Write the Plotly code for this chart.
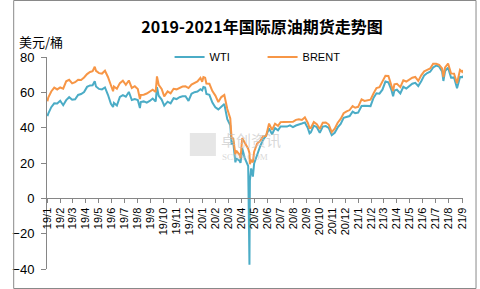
import plotly.graph_objects as go

dates = [
    "2019-01-02","2019-01-04","2019-01-11","2019-01-18","2019-01-25","2019-02-01","2019-02-08","2019-02-15","2019-02-22",
    "2019-03-01","2019-03-08","2019-03-15","2019-03-22","2019-03-29","2019-04-05","2019-04-12","2019-04-18","2019-04-23",
    "2019-04-26","2019-05-03","2019-05-10","2019-05-17","2019-05-24","2019-05-31","2019-06-05","2019-06-07","2019-06-14",
    "2019-06-21","2019-06-28","2019-07-05","2019-07-12","2019-07-19","2019-07-26","2019-08-02","2019-08-07","2019-08-09",
    "2019-08-16","2019-08-23","2019-08-30","2019-09-06","2019-09-13","2019-09-16","2019-09-20","2019-09-27","2019-10-03",
    "2019-10-11","2019-10-18","2019-10-25","2019-11-01","2019-11-08","2019-11-15","2019-11-22","2019-11-29","2019-12-06",
    "2019-12-13","2019-12-20","2019-12-27","2019-12-31",
    "2020-01-03","2020-01-07","2020-01-10","2020-01-17","2020-01-24","2020-01-31","2020-02-07","2020-02-14","2020-02-21",
    "2020-02-28","2020-03-06","2020-03-09","2020-03-13","2020-03-18","2020-03-20","2020-03-27","2020-03-30","2020-04-02",
    "2020-04-03","2020-04-09","2020-04-17","2020-04-20","2020-04-21","2020-04-24","2020-04-28","2020-05-01","2020-05-08",
    "2020-05-15","2020-05-22","2020-05-29","2020-06-05","2020-06-12","2020-06-19","2020-06-26","2020-07-02","2020-07-10",
    "2020-07-17","2020-07-24","2020-07-31","2020-08-07","2020-08-14","2020-08-21","2020-08-28","2020-09-04","2020-09-08",
    "2020-09-11","2020-09-18","2020-09-25","2020-10-02","2020-10-09","2020-10-16","2020-10-23","2020-10-30","2020-11-06",
    "2020-11-13","2020-11-20","2020-11-27","2020-12-04","2020-12-11","2020-12-18","2020-12-24","2020-12-31",
    "2021-01-08","2021-01-15","2021-01-22","2021-01-29","2021-02-05","2021-02-12","2021-02-19","2021-02-26","2021-03-05",
    "2021-03-12","2021-03-19","2021-03-23","2021-03-26","2021-04-01","2021-04-09","2021-04-16","2021-04-23","2021-04-30",
    "2021-05-07","2021-05-14","2021-05-21","2021-05-28","2021-06-04","2021-06-11","2021-06-18","2021-06-25","2021-07-02",
    "2021-07-09","2021-07-16","2021-07-19","2021-07-23","2021-07-30","2021-08-06","2021-08-13","2021-08-20","2021-08-27",
    "2021-09-01","2021-09-03",
]

wti = [
    46.54,47.96,51.59,53.80,53.69,55.26,52.72,55.59,57.26,
    55.80,56.07,58.52,59.04,60.14,63.08,63.89,64.00,66.30,
    63.30,61.94,61.66,62.76,58.63,53.50,51.68,54.00,52.51,
    57.43,58.47,57.51,60.21,55.63,56.20,55.66,51.09,54.50,
    54.87,54.17,55.10,56.52,54.85,62.90,58.09,55.91,52.45,
    54.70,53.78,56.66,56.20,57.24,57.72,57.77,55.17,59.20,
    60.07,60.44,61.72,61.06,
    63.05,62.70,59.04,58.54,54.19,51.56,50.32,52.05,53.38,
    44.76,41.28,31.13,31.73,20.37,22.43,21.51,20.09,25.32,
    28.34,22.76,18.27,-37.63,10.01,16.94,12.34,19.78,24.74,
    29.43,33.25,35.49,39.55,36.26,39.75,38.49,40.65,40.55,
    40.59,41.29,40.27,41.22,42.01,42.34,42.97,39.77,36.76,
    37.33,41.11,40.25,37.05,40.60,40.88,39.85,35.79,37.14,
    40.13,42.15,45.53,46.26,46.57,49.10,48.23,48.52,
    52.24,52.36,52.27,52.20,56.85,59.47,59.24,61.50,66.09,
    65.61,61.42,57.76,60.97,61.45,59.32,63.13,62.14,63.58,
    64.90,65.37,63.58,66.32,69.62,70.91,71.64,74.05,75.16,
    74.56,71.81,66.42,72.07,73.95,68.28,68.44,62.32,68.74,
    68.59,69.29,
]

brent = [
    54.91,57.06,60.48,62.70,61.64,62.75,62.10,66.25,67.12,
    65.07,65.74,67.16,67.03,68.39,70.34,71.55,71.97,74.51,
    72.15,70.85,70.62,72.21,68.69,64.49,60.63,63.29,62.01,
    65.20,66.55,64.23,66.72,62.47,63.46,61.89,56.23,58.53,
    58.64,59.34,60.43,61.54,60.22,69.02,64.28,61.91,57.71,
    60.51,59.42,62.02,61.69,62.51,63.30,63.39,62.43,64.39,
    65.22,66.14,68.16,66.00,
    68.60,68.27,64.98,64.85,60.69,58.16,54.47,57.32,58.50,
    50.52,45.27,34.36,33.85,24.88,26.98,24.93,22.76,29.94,
    34.11,31.48,28.08,25.57,19.33,21.44,20.46,26.44,30.97,
    32.50,35.13,35.33,42.30,38.73,42.19,41.02,43.14,43.24,
    43.14,43.34,43.30,44.40,44.80,44.35,45.81,42.66,39.78,
    39.83,43.15,41.92,39.27,42.85,42.93,41.77,37.46,39.45,
    42.78,44.96,48.18,49.25,49.97,52.26,51.29,51.80,
    55.99,55.10,55.41,55.88,59.34,62.43,62.91,66.13,69.36,
    69.22,64.53,60.79,64.57,64.86,62.95,66.77,66.11,67.25,
    68.28,68.71,66.44,69.63,71.89,72.69,73.51,76.18,76.17,
    75.55,73.59,68.62,74.10,76.33,70.70,70.59,65.18,72.70,
    71.59,72.61,
]

tick_dates = ["2019-%02d-01" % m for m in range(1, 13)] + \
             ["2020-%02d-01" % m for m in range(1, 13)] + \
             ["2021-%02d-01" % m for m in range(1, 10)]
tick_labels = ["19/%d" % m for m in range(1, 13)] + \
              ["20/%d" % m for m in range(1, 13)] + \
              ["21/%d" % m for m in range(1, 10)]

title_text = "2019-2021年国际原油期货走势图"
unit_text = "美元/桶"

W, H = 480, 289
L, R, T, B = 35, 14, 57, 20
PW, PH = W - L - R, H - T - B

def px_x(x):
    return (x - L) / PW

def px_y(y):
    return (H - B - y) / PH

FONT = "Liberation Sans, Arial, Noto Sans CJK SC, sans-serif"
CJK = "Noto Sans CJK SC, Liberation Sans, sans-serif"

fig = go.Figure()
fig.add_trace(go.Scatter(x=dates, y=wti, mode="lines", name="WTI",
                         line=dict(color="#4BACC6", width=2)))
fig.add_trace(go.Scatter(x=dates, y=brent, mode="lines", name="BRENT",
                         line=dict(color="#F79646", width=2)))

fig.update_layout(
    width=W, height=H,
    margin=dict(l=L, r=R, t=T, b=B),
    paper_bgcolor="white", plot_bgcolor="white",
    font=dict(family=FONT, color="#000000", size=12),
    title=dict(text="<b>" + title_text + "</b>", x=262 / W, xanchor="center",
               y=1 - 27 / H, yanchor="middle",
               font=dict(family=CJK, size=16, color="#000000")),
    showlegend=True,
    legend=dict(orientation="h", x=px_x(162), xanchor="left",
                y=px_y(57), yanchor="middle",
                font=dict(family=FONT, size=11, color="#000000"),
                entrywidth=48, entrywidthmode="pixels",
                bgcolor="rgba(0,0,0,0)", traceorder="normal"),
    xaxis=dict(type="date", range=["2019-01-01", "2021-09-03"],
               tickmode="array", tickvals=tick_dates, ticktext=tick_labels,
               tickangle=-90, tickfont=dict(size=11, family=FONT),
               ticks="outside", ticklen=4, tickcolor="#868686",
               showline=True, linecolor="#868686", linewidth=1,
               showgrid=False, zeroline=False,
               anchor="free", position=40 / 120),
    yaxis=dict(range=[-40, 80], tickvals=[-40, -20, 0, 20, 40, 60, 80],
               tickfont=dict(size=13, family=FONT),
               ticks="outside", ticklen=5, tickcolor="#868686",
               ticklabelstandoff=4,
               showline=True, linecolor="#868686", linewidth=1,
               showgrid=False, zeroline=False),
)

# unit label
fig.add_annotation(text=unit_text, xref="paper", yref="paper",
                   x=px_x(4), y=px_y(41), xanchor="left", yanchor="middle",
                   showarrow=False, font=dict(family=CJK, size=13, color="#000000"))

# watermark
fig.add_shape(type="rect", xref="paper", yref="paper",
              x0=px_x(183), x1=px_x(210), y0=px_y(156), y1=px_y(133),
              line=dict(width=0), fillcolor="rgba(200,200,200,0.45)", layer="below")
fig.add_annotation(text="卓创资讯", xref="paper", yref="paper",
                   x=px_x(213), y=px_y(139), xanchor="left", yanchor="middle",
                   showarrow=False, font=dict(family=CJK, size=15, color="rgba(190,190,190,0.6)"))
fig.add_annotation(text="SCI99.COM", xref="paper", yref="paper",
                   x=px_x(214), y=px_y(157), xanchor="left", yanchor="middle",
                   showarrow=False, font=dict(family="Liberation Serif, serif", size=9, color="rgba(190,190,190,0.6)"))

# outer border
fig.add_shape(type="rect", xref="paper", yref="paper",
              x0=px_x(0.5), x1=px_x(W - 0.5), y0=px_y(H - 0.5), y1=px_y(0.5),
              line=dict(color="#898989", width=1), fillcolor="rgba(0,0,0,0)")

fig.write_html("out.html")
